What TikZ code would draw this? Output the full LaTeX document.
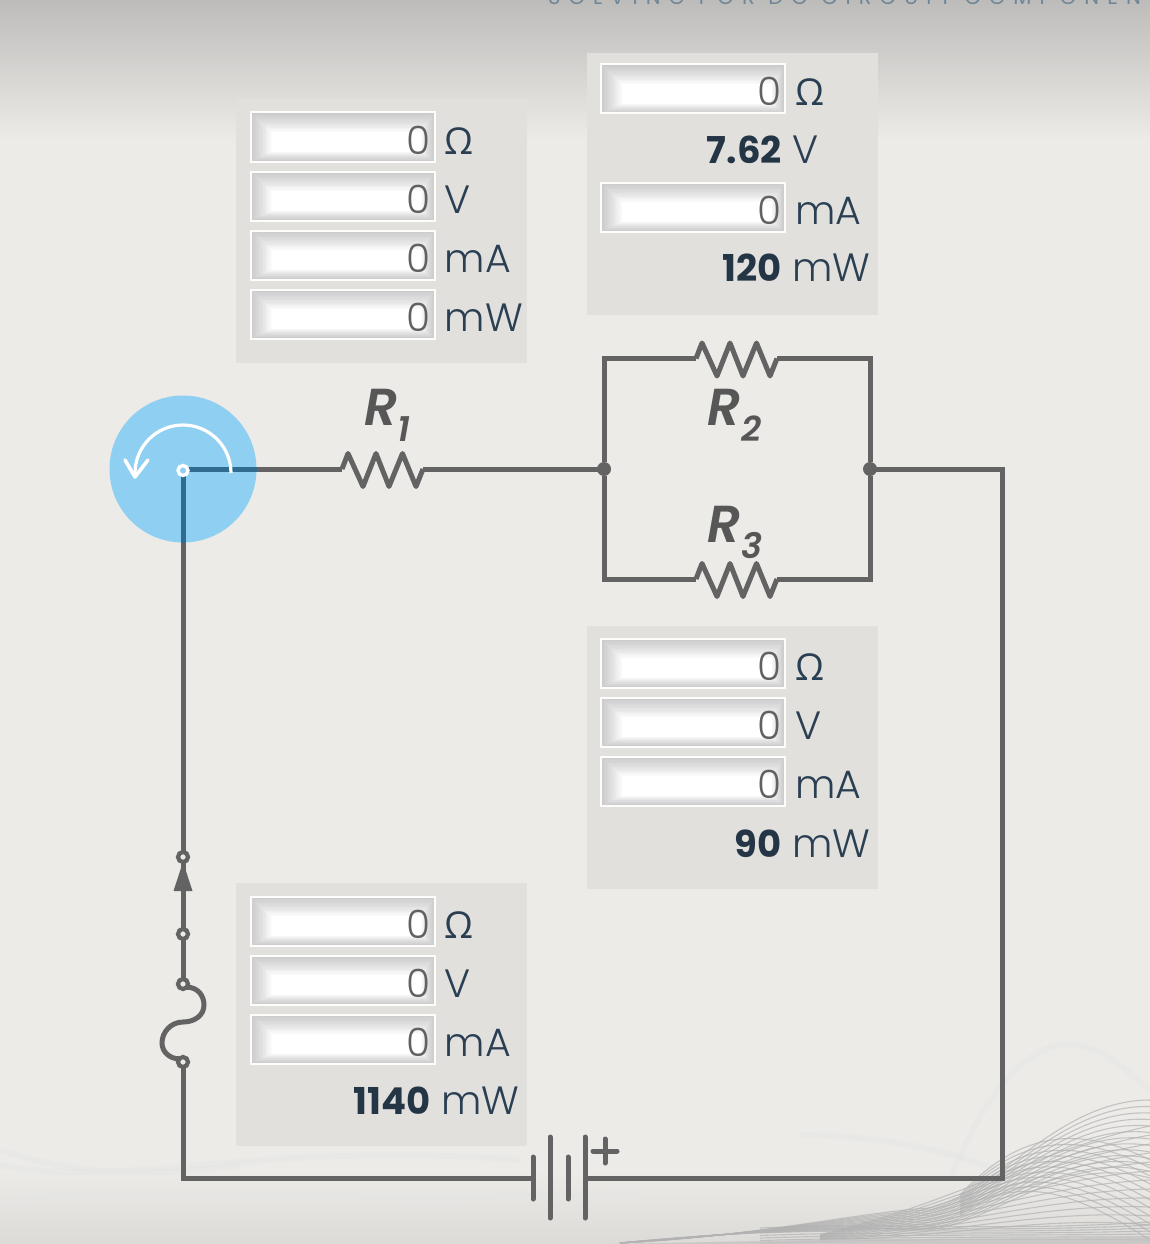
\documentclass[tikz,border=0pt]{standalone}
\usepackage{fontspec}
\setmainfont{Poppins}
\newfontfamily\lightfont{Poppins Light}
\newfontfamily\omegafont{Open Sans}
\newfontfamily\rfont{Poppins SemiBold Italic}
\usetikzlibrary{positioning,calc}
\definecolor{page col}{HTML}{ECEBE8}
\definecolor{panel col}{HTML}{E1E0DD}
\definecolor{wire col}{HTML}{636363}
\definecolor{dial col}{HTML}{8FD0F2}
\definecolor{dial wire col}{HTML}{2F6C8F}
\definecolor{unit col}{HTML}{2A3F52}
\definecolor{title col}{HTML}{6F8798}
\tikzset{
  resistor/.pic={
    \coordinate (-left) at (-41,0);
    \coordinate (-right) at (40,0);
    \draw[wire, line join=round] (-left) -- (-35,-15.5) -- (-20,17.5) -- (-7,-15.5) -- (6,17.5) -- (19.5,-15.5) -- (33,17.5) -- (-right);
  }
}
\begin{document}
\begin{tikzpicture}[x=1pt, y=-1pt,
    wire/.style={draw=wire col, line width=5pt, line join=miter},
    dial wire/.style={draw=dial wire col, line width=5pt},
    plate/.style={draw=wire col, line width=5pt, line cap=round},
    ring/.style={circle, draw=wire col, fill=page col, line width=4.2pt, minimum size=10pt, inner sep=0pt, outer sep=0pt},
    junction/.style={circle, fill=wire col, minimum size=14pt, inner sep=0pt, outer sep=0pt},
    panel/.style={fill=panel col, minimum width=291.5pt, inner sep=0pt, outer sep=0pt},
    field box/.style={draw=white!92!panel col, line width=2pt, fill=black!22, minimum width=184pt, minimum height=49pt,
      text width=177pt, align=right, inner sep=0pt, outer sep=0pt, text height=34pt, text depth=0pt,
      font=\lightfont\fontsize{39}{39}\selectfont, text=black!62,
      path picture={
        \foreach \k in {0,...,15}{
          \pgfmathsetmacro{\stepop}{1/(16-\k)}
          \fill[white, opacity=\stepop] ([shift={(\k*1.4pt,-\k*1.3pt)}]path picture bounding box.north west)
            rectangle ([shift={(-\k*0.9pt,\k*0.65pt)}]path picture bounding box.south east);
        }
      }},
    unit text/.style={inner sep=0pt, text height=34pt, text depth=0pt, text=unit col, font=\lightfont\fontsize{39.5}{39.5}\selectfont},
    read out/.style={anchor=base east, inner sep=0pt, text=unit col!85!black, font=\bfseries\fontsize{37}{37}\selectfont},
    r label/.style={anchor=base west, inner sep=0pt, text=black!66, font=\rfont\fontsize{52}{52}\selectfont},
    r sub/.style={anchor=base west, inner sep=0pt, text=black!66, font=\rfont\fontsize{35}{35}\selectfont},
    wave line/.style={draw=black!30, line width=1.1pt, opacity=.7},
    soft wave/.style={draw=black!10, line width=6pt, opacity=.45}]
  \useasboundingbox (0,0) rectangle (1150,1244);
  % backdrop
  \fill[page col] (0,0) rectangle (1150,1244);
  \shade[top color=black!20!page col, bottom color=page col] (0,0) rectangle (1150,140);
  \shade[top color=page col, bottom color=black!7!page col] (0,1170) rectangle (1150,1244);
  \begin{scope}
    \clip (0,0) rectangle (1150,1244);
    \node[anchor=base west, inner sep=0pt, text=title col, font=\fontsize{21}{21}\selectfont\addfontfeature{LetterSpace=38.5}] (title) at (548,5) {SOLVING FOR DC CIRCUIT COMPONEN};
    \draw[soft wave] (950,1180) .. controls (985,1090) and (1030,1040) .. (1075,1045) .. controls (1110,1050) and (1130,1075) .. (1150,1090);
    \draw[soft wave] (800,1135) .. controls (880,1135) and (950,1150) .. (1010,1175);
    \draw[soft wave] (0,1165) .. controls (120,1190) and (260,1140) .. (520,1160);
    \draw[soft wave] (0,1205) .. controls (140,1175) and (360,1215) .. (640,1190);
    \draw[soft wave] (0,1150) .. controls (60,1170) and (130,1180) .. (240,1165);
    \foreach \i in {0,...,12}{
      \draw[wave line] (620,1243) .. controls (760,{1236-\i*0.6}) and (860,{1212+\i*1.5}) .. (930,{1208+\i*1.8})
        .. controls (1000,{1190+\i*2.5}) and (1060,{1100+\i*4.5}) .. (1150,{1100+\i*6.5});
    }
    \foreach \i in {0,...,11}{
      \draw[wave line] (820,{1240-\i*0.5}) .. controls (950,{1238-\i*3}) and (1040,{1215-\i*6}) .. (1150,{1225-\i*9});
    }
    \foreach \i in {0,...,10}{
      \draw[wave line] (960,{1195+\i*2}) .. controls (1020,{1130+\i*4}) and (1080,{1125+\i*7}) .. (1150,{1160+\i*8});
    }
    \foreach \i in {0,...,6}{
      \draw[wave line] (760,{1228+\i*2.5}) .. controls (880,{1222+\i*3}) and (1000,{1232+\i}) .. (1150,{1222+\i*3});
    }
    \fill[black!24, opacity=.75] (610,1244) -- (860,1239) -- (1150,1238) -- (1150,1244) -- cycle;
  \end{scope}
  % panels
  \node[panel, minimum height=264pt] (p1) at (381.5,231) {};
  \node[panel, minimum height=262pt] (p2) at (732.5,184) {};
  \node[panel, minimum height=263pt] (p3) at (732.5,757.5) {};
  \node[panel, minimum height=263pt] (p4) at (381.5,1014.5) {};
  % panel one
  \node[field box] (f1o) at (342.5,137) {0};
  \node[field box, below=10pt of f1o] (f1v) {0};
  \node[field box, below=10pt of f1v] (f1a) {0};
  \node[field box, below=10pt of f1a] (f1w) {0};
  \node[unit text, right=10pt of f1o] (u1o) {\omegafont\fontsize{37}{37}\selectfont Ω};
  \node[unit text, right=10pt of f1v] (u1v) {V};
  \node[unit text, right=10pt of f1a] (u1a) {mA};
  \node[unit text, right=10pt of f1w] (u1w) {mW};
  % panel two
  \node[field box] (f2o) at (693,89) {0};
  \node[field box] (f2a) at (693,207) {0};
  \node[unit text, right=10pt of f2o] (u2o) {\omegafont\fontsize{37}{37}\selectfont Ω};
  \node[unit text, right=10pt of f2a] (u2a) {mA};
  \node[read out] (v2v) at (782,163.5) {7.62};
  \node[read out] (v2w) at (782,281.5) {120};
  \node[unit text, right=10pt of v2v.base east, anchor=base west] (u2v) {V};
  \node[unit text, right=10pt of v2w.base east, anchor=base west] (u2w) {mW};
  % panel three
  \node[field box] (f3o) at (693,663) {0};
  \node[field box, below=10pt of f3o] (f3v) {0};
  \node[field box, below=10pt of f3v] (f3a) {0};
  \node[unit text, right=10pt of f3o] (u3o) {\omegafont\fontsize{37}{37}\selectfont Ω};
  \node[unit text, right=10pt of f3v] (u3v) {V};
  \node[unit text, right=10pt of f3a] (u3a) {mA};
  \node[read out] (v3w) at (782,857.5) {90};
  \node[unit text, right=10pt of v3w.base east, anchor=base west] (u3w) {mW};
  % panel four
  \node[field box] (f4o) at (342.5,921) {0};
  \node[field box, below=10pt of f4o] (f4v) {0};
  \node[field box, below=10pt of f4v] (f4a) {0};
  \node[unit text, right=10pt of f4o] (u4o) {\omegafont\fontsize{37}{37}\selectfont Ω};
  \node[unit text, right=10pt of f4v] (u4v) {V};
  \node[unit text, right=10pt of f4a] (u4a) {mA};
  \node[read out] (v4w) at (431,1114.5) {1140};
  \node[unit text, right=10pt of v4w.base east, anchor=base west] (u4w) {mW};
  % circuit parts
  \node[circle, fill=dial col, minimum size=147pt, inner sep=0pt, outer sep=0pt] (dial) at (183,469) {};
  \node[ring] (s1) at (183,857) {};
  \node[ring] (s2) at (183,934) {};
  \node[ring] (s3) at (183,984) {};
  \node[ring] (s4) at (183,1062) {};
  \node[junction] (j1) at (604,469) {};
  \node[junction] (j2) at (870,469) {};
  \pic (r1) at (383,469) {resistor};
  \pic (r2) at (737,358.5) {resistor};
  \pic (r3) at (737,579) {resistor};
  \coordinate (b1) at (533,1178);
  \coordinate (b2) at (550,1178);
  \coordinate (b3) at (568,1178);
  \coordinate (b4) at (585,1178);
  \coordinate (c1) at (1002,469);
  \coordinate (c2) at (1002,1178);
  \coordinate (c3) at (183,1178);
  % wires
  \draw[dial wire] (dial.center) -- (dial.east);
  \draw[dial wire] (dial.center) -- (dial.south);
  \draw[wire] (dial.east) -- (r1-left);
  \draw[wire] (r1-right) -- (j1.center);
  \draw[wire] (r2-left) -| (j1);
  \draw[wire] (r3-left) -| (j1);
  \draw[wire] (r2-right) -| (j2);
  \draw[wire] (r3-right) -| (j2);
  \draw[wire] (j2.center) -- (c1) -- (c2) -- (b4);
  \draw[wire] (b1) -- (c3) -- (s4);
  \draw[wire] (dial.south) -- (s1);
  \draw[wire] (s1) -- (s2);
  \draw[wire] (s2) -- (s3);
  \draw[wire] (s3.-40) .. controls (197,987) and (204,995) .. (204,1005) .. controls (204,1015) and (195,1022) .. (183,1022)
    .. controls (171,1022) and (162,1032) .. (162,1043) .. controls (162,1052) and (170,1059) .. (s4.140);
  \fill[wire col] (183,862) -- (192.5,891) -- (173.5,891) -- cycle;
  \node[circle, draw=white, fill=dial col, line width=3.4pt, minimum size=10pt, inner sep=0pt, outer sep=0pt] (hub) at (183,470.5) {};
  % battery
  \draw[plate] ($(b1)+(0,-21)$) -- ($(b1)+(0,21)$);
  \draw[plate] ($(b2)+(0,-41)$) -- ($(b2)+(0,40)$);
  \draw[plate] ($(b3)+(0,-21)$) -- ($(b3)+(0,21)$);
  \draw[plate] ($(b4)+(0,-41)$) -- ($(b4)+(0,40)$);
  \draw[plate] (593,1151) -- (617,1151);
  \draw[plate] (605,1139) -- (605,1163);
  % dial arrow
  \draw[white, line width=3.2pt] (231,473) arc (0:-180:48) -- (135,477);
  \draw[white, line width=3.6pt, line cap=round, line join=round] (125,460) -- (135,477) -- (148,460);
  % labels
  \node[r label] (l1) at (364,425) {R};
  \node[r sub] (l1s) at (397,441) {1};
  \node[r label] (l2) at (707,425) {R};
  \node[r sub] (l2s) at (741,441) {2};
  \node[r label] (l3) at (707,542) {R};
  \node[r sub] (l3s) at (741,558) {3};
\end{tikzpicture}
\end{document}
